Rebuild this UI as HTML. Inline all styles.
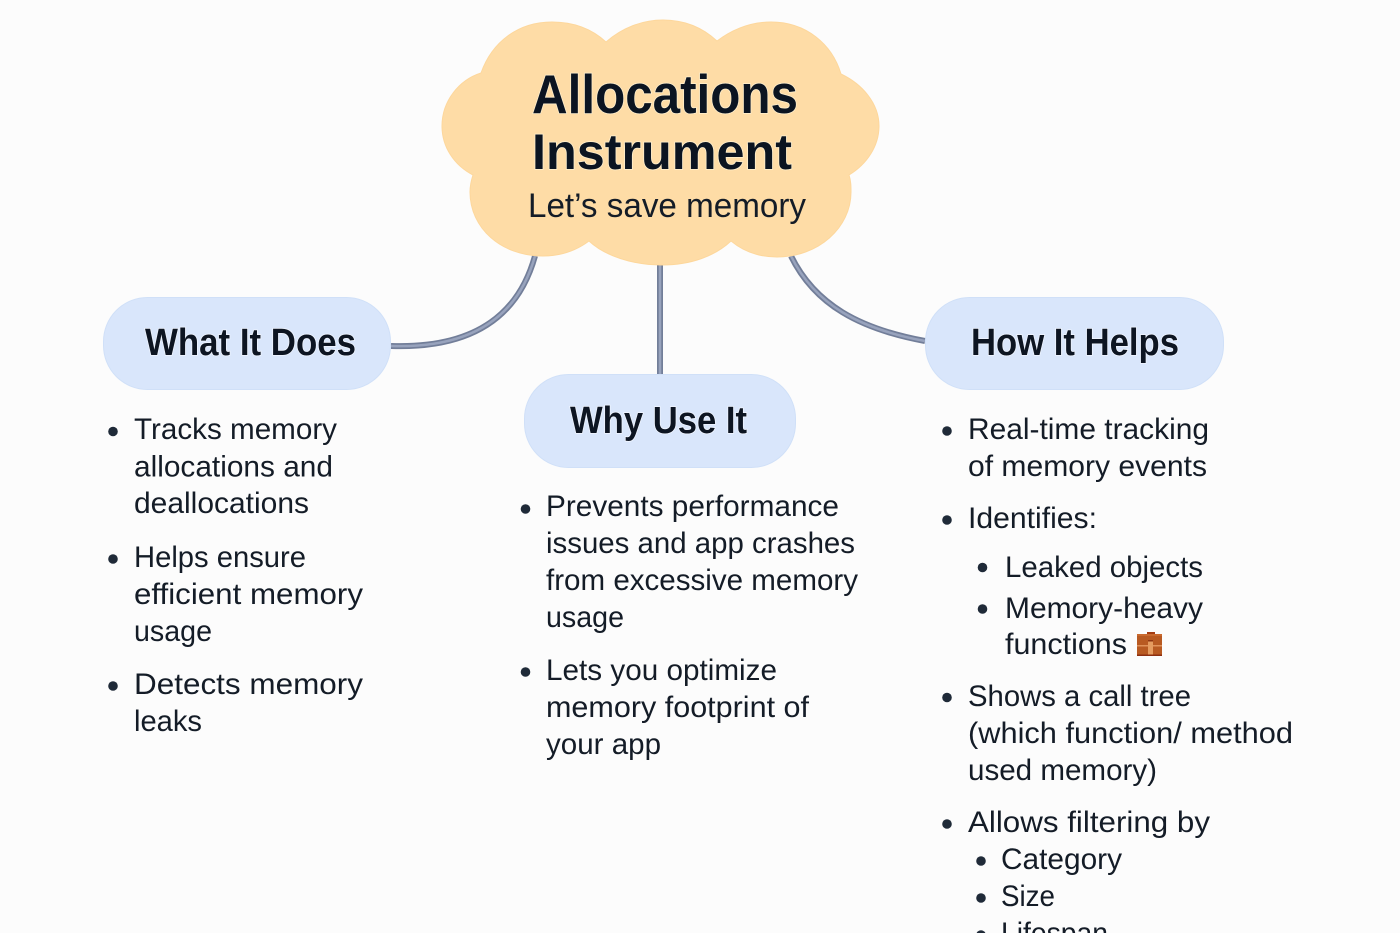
<!DOCTYPE html>
<html><head><meta charset="utf-8"><style>
html,body{margin:0;padding:0;background:#fcfcfc;width:1400px;height:933px;overflow:hidden}
svg{display:block}
text{font-family:"Liberation Sans",sans-serif;fill:#141c27}
.b{font-size:30px}
.t{font-size:38px;font-weight:700;fill:#0d1522;stroke:#f1f6ff;stroke-width:1.500px;paint-order:stroke}
.h{font-weight:700;fill:#0b1421;stroke:#fff0cf;stroke-width:1.500px;paint-order:stroke}
circle{fill:#1f2a38}
</style></head><body>
<svg width="1400" height="933" viewBox="0 0 1400 933" xmlns="http://www.w3.org/2000/svg">
<rect width="1400" height="933" fill="#fcfcfc"/>
<g fill="none" stroke="#727e99" stroke-width="6">
<path d="M535 256C520 310 480 349 391 346"/>
<path d="M660 264V374"/>
<path d="M791 256C815 305 860 329 925 341"/>
</g>
<g fill="none" stroke="#98a3bd" stroke-width="2.500">
<path d="M535 256C520 310 480 349 391 346"/>
<path d="M660 264V374"/>
<path d="M791 256C815 305 860 329 925 341"/>
</g>
<path d="M481 73C492 42 518 22 552 22C575 22 593 30 606 42C622 28 642 20 663 20C685 20 703 28 717 41C733 29 750 22 771 22C806 22 832 44 841 74C862 84 879 103 879 126C879 146 867 164 849 175C851 181 851 186 851 192C851 228 818 257 777 257C759 257 743 251 731 241C715 256 691 265 662 265C633 265 605 256 589 241C577 250 561 256 543 256C501 256 470 228 470 192C470 186 471 181 473 175C454 165 442 147 442 126C442 101 459 80 481 73Z" fill="#fedca6" stroke="#fdd79c" stroke-width="1"/>
<g fill="#d9e6fb" stroke="#d0e0f8" stroke-width="1">
<rect x="103.500" y="297.500" width="287" height="92" rx="44"/>
<rect x="524.500" y="374.500" width="271" height="93" rx="44"/>
<rect x="925.500" y="297.500" width="298" height="92" rx="44"/>
</g>
<text class="h" font-size="55" x="532" y="113" textLength="266" lengthAdjust="spacingAndGlyphs">Allocations</text>
<text class="h" font-size="50" x="532" y="169" textLength="260" lengthAdjust="spacingAndGlyphs">Instrument</text>
<text x="528" y="217" font-size="34.500" textLength="278" lengthAdjust="spacingAndGlyphs">Let’s save memory</text>
<text class="t" x="145" y="355" textLength="211" lengthAdjust="spacingAndGlyphs">What It Does</text>
<text class="t" x="570" y="433" textLength="177" lengthAdjust="spacingAndGlyphs">Why Use It</text>
<text class="t" x="971" y="355" textLength="208" lengthAdjust="spacingAndGlyphs">How It Helps</text>
<g>
<text class="b" x="134" y="439" textLength="203" lengthAdjust="spacingAndGlyphs">Tracks memory</text>
<text class="b" x="134" y="476.500" textLength="199" lengthAdjust="spacingAndGlyphs">allocations and</text>
<text class="b" x="134" y="513" textLength="175" lengthAdjust="spacingAndGlyphs">deallocations</text>
<text class="b" x="134" y="567" textLength="172" lengthAdjust="spacingAndGlyphs">Helps ensure</text>
<text class="b" x="134" y="604" textLength="229" lengthAdjust="spacingAndGlyphs">efficient memory</text>
<text class="b" x="134" y="641" textLength="78" lengthAdjust="spacingAndGlyphs">usage</text>
<text class="b" x="134" y="694" textLength="229" lengthAdjust="spacingAndGlyphs">Detects memory</text>
<text class="b" x="134" y="731" textLength="68" lengthAdjust="spacingAndGlyphs">leaks</text>
<text class="b" x="546" y="516" textLength="293" lengthAdjust="spacingAndGlyphs">Prevents performance</text>
<text class="b" x="546" y="553" textLength="309" lengthAdjust="spacingAndGlyphs">issues and app crashes</text>
<text class="b" x="546" y="590" textLength="312" lengthAdjust="spacingAndGlyphs">from excessive memory</text>
<text class="b" x="546" y="627" textLength="78" lengthAdjust="spacingAndGlyphs">usage</text>
<text class="b" x="546" y="680" textLength="231" lengthAdjust="spacingAndGlyphs">Lets you optimize</text>
<text class="b" x="546" y="717" textLength="263" lengthAdjust="spacingAndGlyphs">memory footprint of</text>
<text class="b" x="546" y="754" textLength="115" lengthAdjust="spacingAndGlyphs">your app</text>
<text class="b" x="968" y="439" textLength="241" lengthAdjust="spacingAndGlyphs">Real-time tracking</text>
<text class="b" x="968" y="476" textLength="239" lengthAdjust="spacingAndGlyphs">of memory events</text>
<text class="b" x="968" y="528" textLength="129" lengthAdjust="spacingAndGlyphs">Identifies:</text>
<text class="b" x="1005" y="577" textLength="198" lengthAdjust="spacingAndGlyphs">Leaked objects</text>
<text class="b" x="1005" y="618" textLength="198" lengthAdjust="spacingAndGlyphs">Memory-heavy</text>
<text class="b" x="1005" y="654" textLength="122" lengthAdjust="spacingAndGlyphs">functions</text>
<text class="b" x="968" y="706" textLength="223" lengthAdjust="spacingAndGlyphs">Shows a call tree</text>
<text class="b" x="968" y="743" textLength="325" lengthAdjust="spacingAndGlyphs">(which function/  method</text>
<text class="b" x="968" y="780" textLength="189" lengthAdjust="spacingAndGlyphs">used memory)</text>
<text class="b" x="968" y="832" textLength="242" lengthAdjust="spacingAndGlyphs">Allows filtering by</text>
<text class="b" x="1001" y="869" textLength="121" lengthAdjust="spacingAndGlyphs">Category</text>
<text class="b" x="1001" y="906" textLength="54" lengthAdjust="spacingAndGlyphs">Size</text>
<text class="b" x="1001" y="943" textLength="107" lengthAdjust="spacingAndGlyphs">Lifespan</text>
</g>
<g>
<circle cx="113" cy="431.500" r="4.800"/><circle cx="113" cy="559" r="4.800"/><circle cx="113" cy="686" r="4.800"/>
<circle cx="525.500" cy="509" r="4.800"/><circle cx="525.500" cy="672" r="4.800"/>
<circle cx="947" cy="431" r="4.800"/><circle cx="947" cy="520" r="4.800"/>
<circle cx="982.500" cy="567.500" r="4.800"/><circle cx="982.500" cy="609" r="4.800"/>
<circle cx="947" cy="697.500" r="4.800"/><circle cx="947" cy="824" r="4.800"/>
<circle cx="981" cy="861" r="4.800"/><circle cx="981" cy="898" r="4.800"/><circle cx="981" cy="935" r="4.800"/>
</g>
<g>
<rect x="1147" y="632" width="8" height="3" fill="#a33c12"/>
<rect x="1137" y="634" width="25" height="22" fill="#b85a22"/>
<rect x="1137" y="634" width="25" height="2" fill="#c9692e"/>
<rect x="1137" y="645" width="25" height="1.500" fill="#e0925a"/>
<rect x="1148" y="640" width="5" height="16" fill="#e59c60"/>
<rect x="1148" y="640" width="5" height="1.500" fill="#8f3612"/>
<rect x="1137" y="654.500" width="25" height="1.500" fill="#8d2f10"/>
</g>
</svg>
</body></html>
